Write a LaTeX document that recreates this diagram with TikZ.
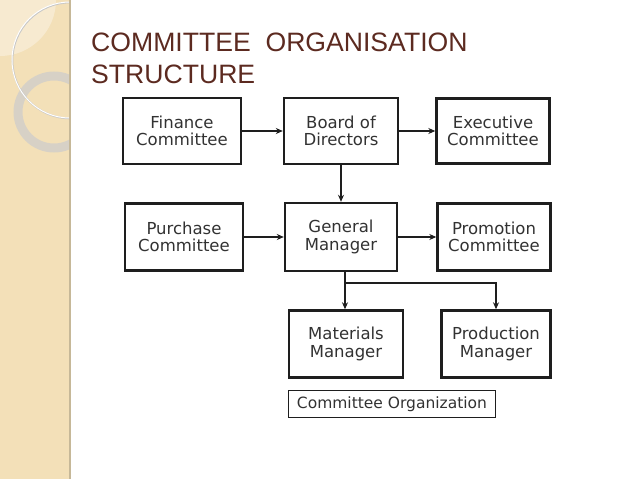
\documentclass[tikz,border=0pt]{standalone}
\usepackage{fontspec}
\setmainfont{DejaVu Sans}
\newfontfamily\titlefont{Liberation Sans}
\usetikzlibrary{arrows.meta}
\definecolor{titlebrown}{RGB}{92,42,32}
\definecolor{bandbeige}{RGB}{243,224,184}
\definecolor{bandedge}{RGB}{198,184,152}
\definecolor{boxline}{RGB}{30,30,30}
\definecolor{boxtext}{RGB}{50,50,50}

\begin{document}
\begin{tikzpicture}[x=1pt,y=-1pt,
    unit/.style={draw=boxline,line width=2.4pt,text=boxtext,align=center,
      inner sep=0pt,font=\fontsize{16.5}{17.5}\selectfont},
    link/.style={-{Stealth[length=7pt,width=6pt]},line width=1.4pt,draw=boxline},
    headline/.style={anchor=base west,text=titlebrown,inner sep=0pt,
      font=\titlefont\fontsize{26.6}{31}\selectfont}]
   \useasboundingbox (0,0) rectangle (638,479);
   % side band
   \fill[bandbeige] (0,0) rectangle (69,479);
   \begin{scope}
     \clip (0,0) rectangle (69,479);
     \fill[white,opacity=0.35] (0,0) circle (56);
     \draw[line width=9pt,gray!40,opacity=0.7] (54,112) circle (36);
     \draw[line width=1.6pt,gray!45] (70.5,60.5) circle (58);
     \draw[line width=1pt,white] (70,60) circle (58);
   \end{scope}
   \draw[bandedge,line width=2pt] (70,0) -- (70,479);
   % heading
   \node[headline] (title1) at (91,52) {COMMITTEE\ \ ORGANISATION};
   \node[headline] (title2) at (91,83) {STRUCTURE};
   % chart
   \node[unit,minimum width=118,minimum height=66] (fin) at (182,131) {Finance\\Committee};
   \node[unit,minimum width=114,minimum height=66] (bod) at (341,131) {Board of\\Directors};
   \node[unit,minimum width=113,minimum height=65] (exe) at (493,131) {Executive\\Committee};
   \node[unit,minimum width=118,minimum height=67] (pur) at (184,237) {Purchase\\Committee};
   \node[unit,minimum width=112,minimum height=68] (gm) at (341,237) {General\\Manager};
   \node[unit,minimum width=113,minimum height=67] (pro) at (494,237) {Promotion\\Committee};
   \node[unit,minimum width=114,minimum height=67] (mat) at (346,344) {Materials\\Manager};
   \node[unit,minimum width=109,minimum height=67] (prd) at (496,344) {Production\\Manager};
   \node[unit,line width=1.3pt,minimum width=207,minimum height=27,
     font=\fontsize{15.5}{18}\selectfont] (caption) at (392,404) {Committee Organization};
   \coordinate (split) at (345,283);
   \draw[link] (fin) -- (bod);
   \draw[link] (bod) -- (exe);
   \draw[link] (bod) -- (gm);
   \draw[link] (pur) -- (gm);
   \draw[link] (gm) -- (pro);
   \draw[line width=1.4pt,boxline] (gm.south -| split) -- (split);
   \draw[link] (split) -- (split |- mat.north);
   \draw[link] (split) -| (prd.north);
\end{tikzpicture}
\end{document}
